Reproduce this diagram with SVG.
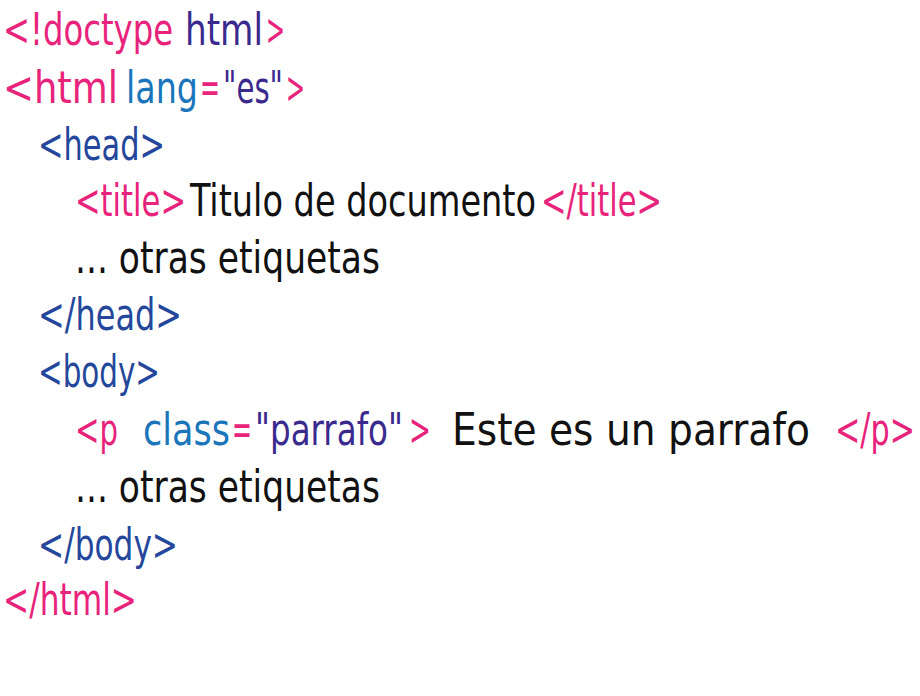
<svg xmlns="http://www.w3.org/2000/svg" width="920" height="696" viewBox="0 0 920 696">
<style>
text{font-family:"DejaVu Sans Condensed","Liberation Sans",sans-serif;font-size:44px}
.pk{fill:#e8237b}.pu{fill:#3b2a8e}.bl{fill:#24479c}.tl{fill:#1b75bb}.bk{fill:#111}
</style>
<rect width="920" height="696" fill="#fff"/>
<g id="line1"><text class="pk" x="3" y="45" textLength="170" lengthAdjust="spacingAndGlyphs">&lt;!doctype</text><text class="pu" x="185" y="45" textLength="78" lengthAdjust="spacingAndGlyphs">html</text><text class="pk" x="266" y="45" textLength="19" lengthAdjust="spacingAndGlyphs">&gt;</text></g>
<g id="line2"><text class="pk" x="3" y="103" textLength="115" lengthAdjust="spacingAndGlyphs">&lt;html</text><text class="tl" x="126" y="103" textLength="72" lengthAdjust="spacingAndGlyphs">lang</text><text class="pk" x="200" y="103" textLength="20" lengthAdjust="spacingAndGlyphs">=</text><text class="pu" x="223" y="103" textLength="60" lengthAdjust="spacingAndGlyphs">"es"</text><text class="pk" x="286" y="103" textLength="19" lengthAdjust="spacingAndGlyphs">&gt;</text></g>
<g id="line3"><text class="bl" x="38" y="160" textLength="127" lengthAdjust="spacingAndGlyphs">&lt;head&gt;</text></g>
<g id="line4"><text class="pk" x="75" y="216" textLength="111" lengthAdjust="spacingAndGlyphs">&lt;title&gt;</text><text class="bk" x="190" y="216" textLength="346" lengthAdjust="spacingAndGlyphs">Titulo de documento</text><text class="pk" x="541" y="216" textLength="121" lengthAdjust="spacingAndGlyphs">&lt;/title&gt;</text></g>
<g id="line5"><text class="bk" x="75" y="273" textLength="305" lengthAdjust="spacingAndGlyphs">... otras etiquetas</text></g>
<g id="line6"><text class="bl" x="38" y="330" textLength="144" lengthAdjust="spacingAndGlyphs">&lt;/head&gt;</text></g>
<g id="line7"><text class="bl" x="38" y="387" textLength="122" lengthAdjust="spacingAndGlyphs">&lt;body&gt;</text></g>
<g id="line8"><text class="pk" x="75" y="445" textLength="43" lengthAdjust="spacingAndGlyphs">&lt;p</text><text class="tl" x="143" y="445" textLength="87" lengthAdjust="spacingAndGlyphs">class</text><text class="pk" x="232" y="445" textLength="20" lengthAdjust="spacingAndGlyphs">=</text><text class="pu" x="255" y="445" textLength="148" lengthAdjust="spacingAndGlyphs">"parrafo"</text><text class="pk" x="409" y="445" textLength="22" lengthAdjust="spacingAndGlyphs">&gt;</text><text class="bk" x="452" y="445" textLength="358" lengthAdjust="spacingAndGlyphs">Este es un parrafo</text><text class="pk" x="835" y="445" textLength="80" lengthAdjust="spacingAndGlyphs">&lt;/p&gt;</text></g>
<g id="line9"><text class="bk" x="75" y="502" textLength="305" lengthAdjust="spacingAndGlyphs">... otras etiquetas</text></g>
<g id="line10"><text class="bl" x="38" y="560" textLength="140" lengthAdjust="spacingAndGlyphs">&lt;/body&gt;</text></g>
<g id="line11"><text class="pk" x="3" y="615" textLength="134" lengthAdjust="spacingAndGlyphs">&lt;/html&gt;</text></g>
<g id="connectors"/>
</svg>
